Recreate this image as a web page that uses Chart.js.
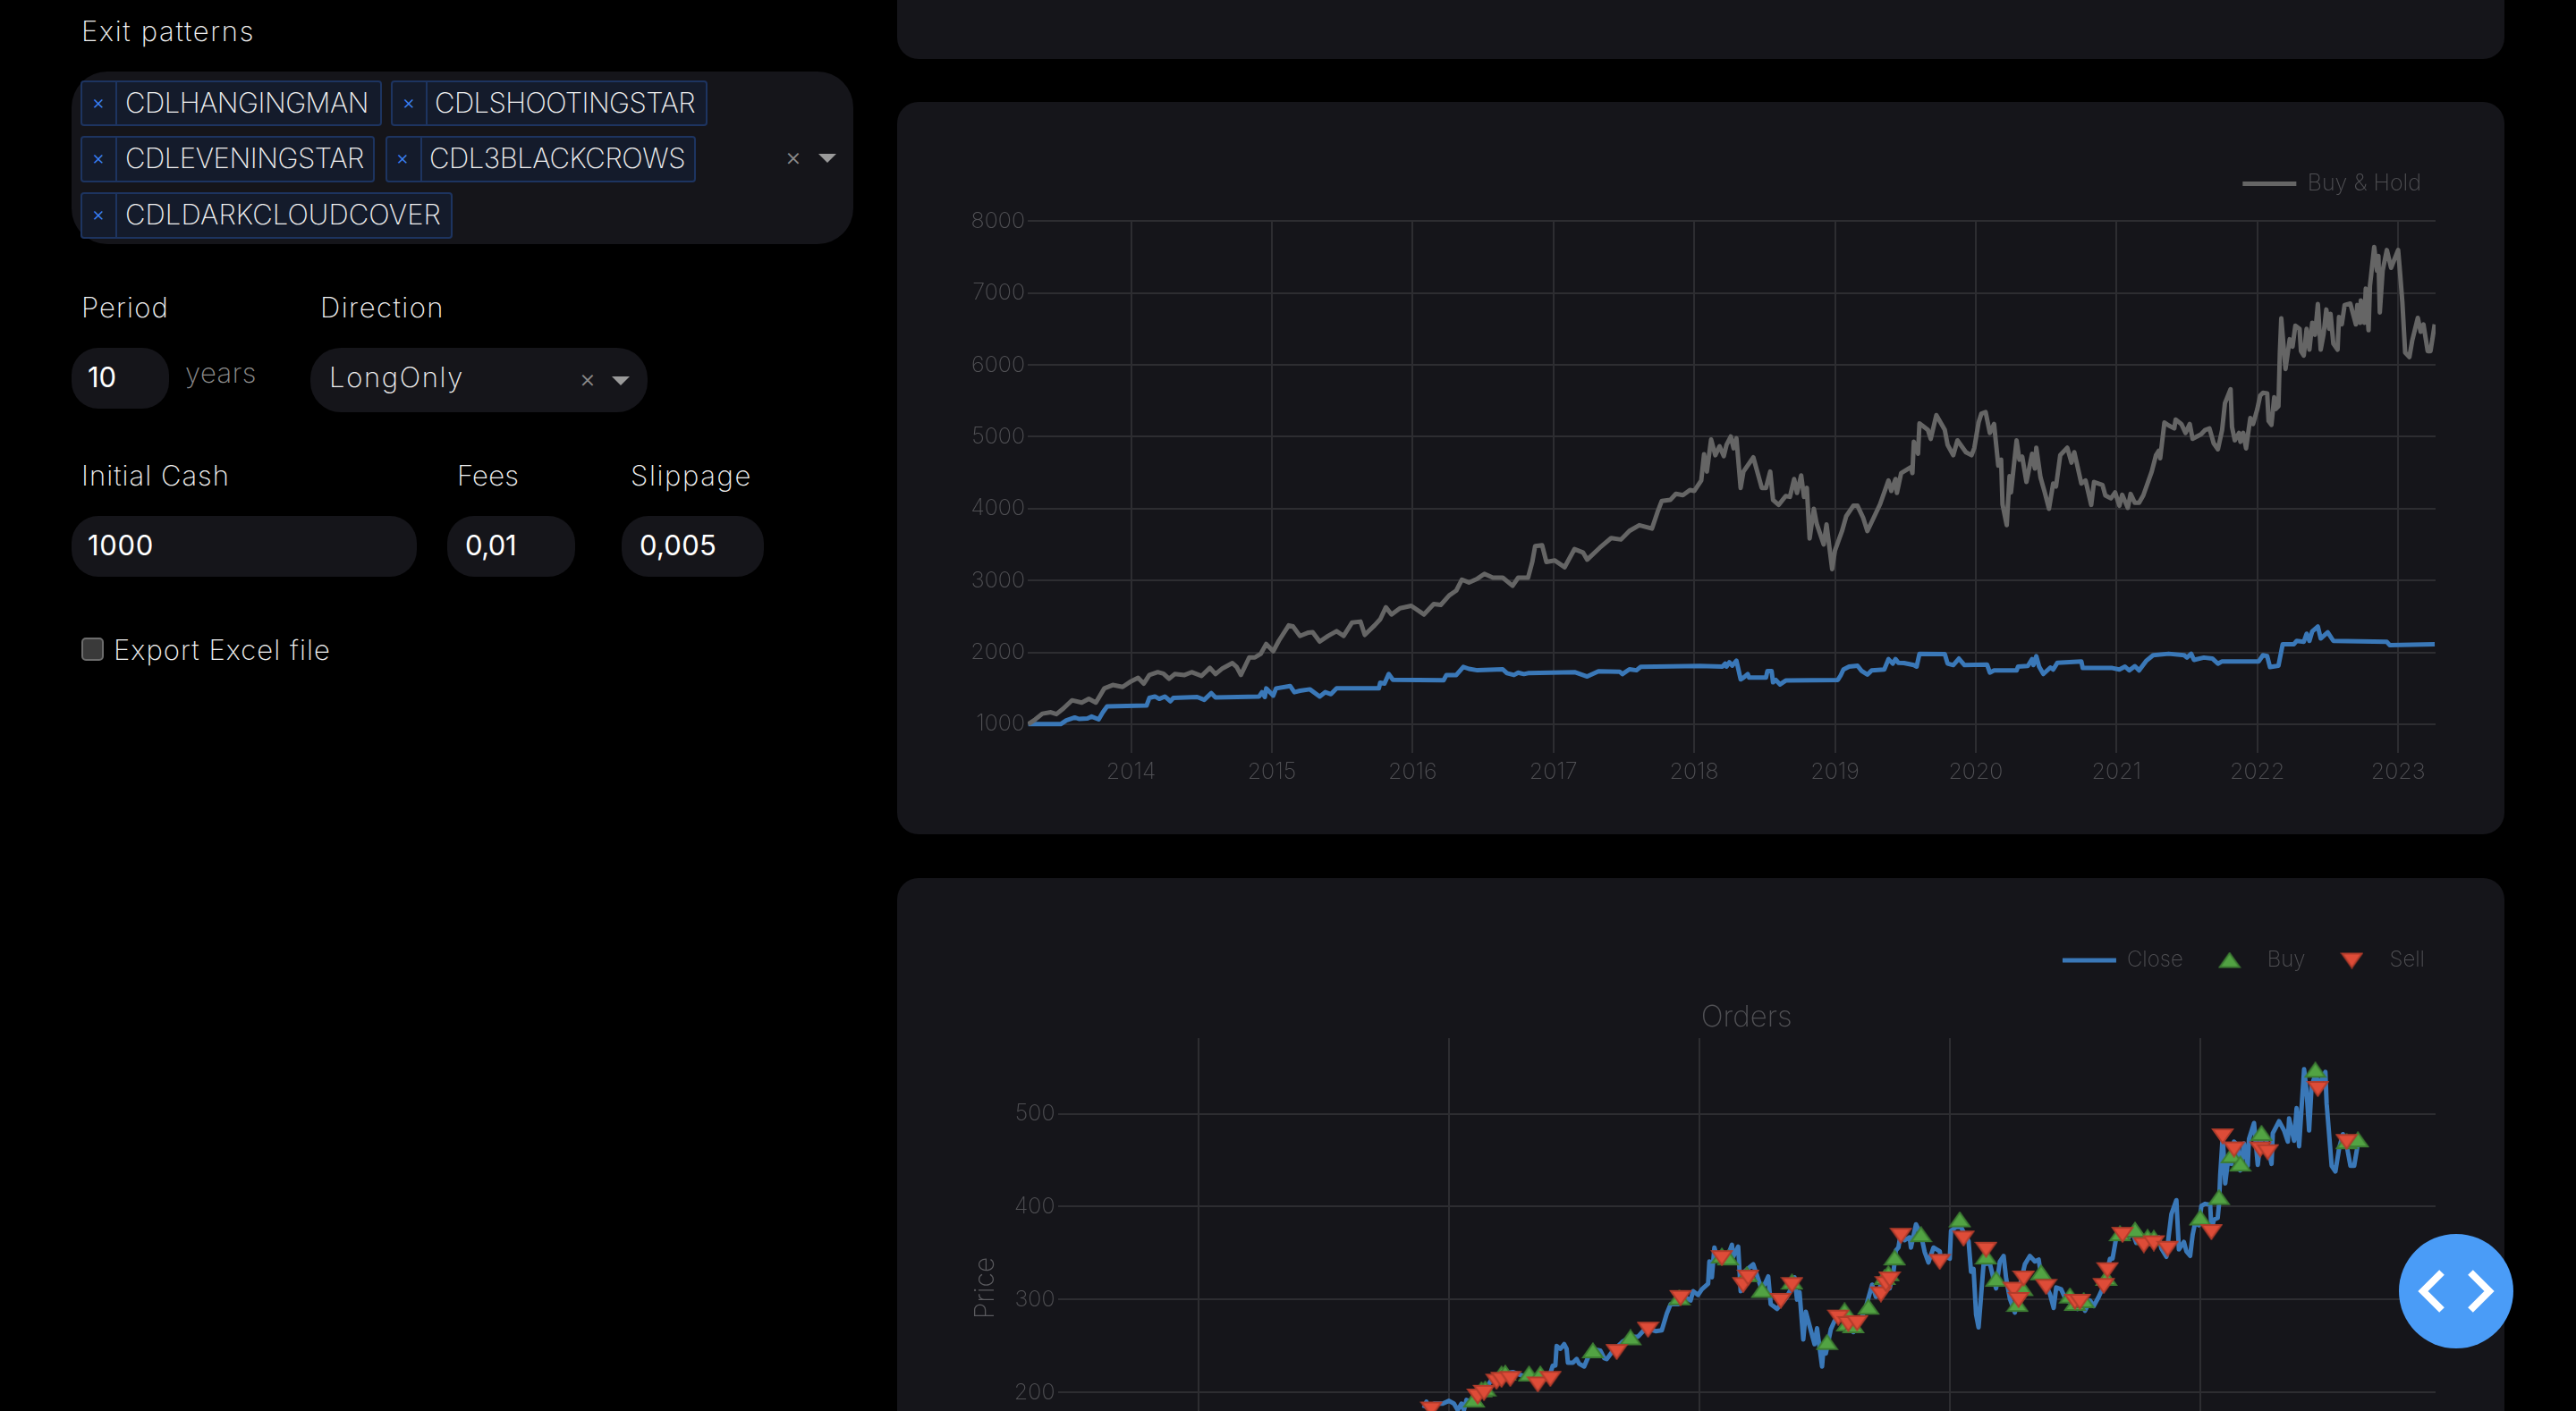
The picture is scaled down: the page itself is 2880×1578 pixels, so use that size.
<!DOCTYPE html>
<html>
<head>
<meta charset="utf-8">
<script src="https://cdn.jsdelivr.net/npm/chart.js@4/dist/chart.umd.js"></script>
<style>
html,body{margin:0;padding:0;background:#000;width:2880px;height:1578px;overflow:hidden;font-family:Inter,"Open Sans",sans-serif;}
.box{position:absolute;background:#15151a;}
.t{position:absolute;transform:translate(-1px,calc(-50% - 1.5px));white-space:nowrap;color:#f2f2f2;font-weight:200;font-size:31px;line-height:1;}
.v{font-weight:400;color:#fff;}
.chip{position:absolute;box-sizing:border-box;background:#141b2b;border:2px solid #1d3460;border-radius:4px;}
.chip i{position:absolute;left:37px;top:0;bottom:0;width:2px;background:#1d3460;}
.x{position:absolute;transform:translate(-50%,-50%);font-weight:300;line-height:1;}
.tri{position:absolute;width:0;height:0;border-left:10px solid transparent;border-right:10px solid transparent;border-top:10px solid #9a9a9a;}
.card{position:absolute;left:1003px;width:1797px;background:#15151a;border-radius:24px;}
canvas{display:block;}
</style>
</head>
<body>
<div class="card" style="top:-40px;height:106px;"></div>
<div class="card" style="top:114px;height:819px;"><canvas id="equity" width="1797" height="819"></canvas></div>
<div class="card" style="top:982px;height:596px;overflow:hidden;border-radius:24px 24px 0 0;"><canvas id="orders" width="1797" height="750"></canvas></div>

<div class="t" style="left:92px;top:36px;" data-w="194">Exit patterns</div>
<div class="box" style="left:80px;top:80px;width:874px;height:193px;border-radius:40px;"></div>
<div class="chip" style="left:90px;top:90px;width:337px;height:51px;"><i></i></div>
<div class="chip" style="left:437px;top:90px;width:354px;height:51px;"><i></i></div>
<div class="chip" style="left:90px;top:152px;width:329px;height:52px;"><i></i></div>
<div class="chip" style="left:431px;top:152px;width:347px;height:52px;"><i></i></div>
<div class="chip" style="left:90px;top:215px;width:416px;height:52px;"><i></i></div>
<div class="t" style="left:141px;top:116px;" data-w="272">CDLHANGINGMAN</div>
<div class="t" style="left:487px;top:116px;" data-w="291">CDLSHOOTINGSTAR</div>
<div class="t" style="left:141px;top:178px;" data-w="267">CDLEVENINGSTAR</div>
<div class="t" style="left:481px;top:178px;" data-w="286">CDL3BLACKCROWS</div>
<div class="t" style="left:141px;top:241px;" data-w="353">CDLDARKCLOUDCOVER</div>
<div class="x" style="left:110px;top:114px;font-size:22px;color:#3b82f6;">×</div>
<div class="x" style="left:457px;top:114px;font-size:22px;color:#3b82f6;">×</div>
<div class="x" style="left:110px;top:176px;font-size:22px;color:#3b82f6;">×</div>
<div class="x" style="left:450px;top:176px;font-size:22px;color:#3b82f6;">×</div>
<div class="x" style="left:110px;top:239px;font-size:22px;color:#3b82f6;">×</div>
<div class="x" style="left:887px;top:175px;font-size:28px;color:#8a8a8a;">×</div>
<div class="tri" style="left:915px;top:172px;"></div>

<div class="t" style="left:92px;top:345px;" data-w="98">Period</div>
<div class="t" style="left:359px;top:345px;" data-w="139">Direction</div>
<div class="box" style="left:80px;top:389px;width:109px;height:68px;border-radius:30px;"></div>
<div class="t v" style="left:99px;top:423px;" data-w="32">10</div>
<div class="t" style="left:208px;top:418px;color:#8c8c8c;" data-w="80">years</div>
<div class="box" style="left:347px;top:389px;width:377px;height:72px;border-radius:34px;"></div>
<div class="t" style="left:369px;top:423px;" data-w="151">LongOnly</div>
<div class="x" style="left:657px;top:423px;font-size:28px;color:#8a8a8a;">×</div>
<div class="tri" style="left:684px;top:421px;"></div>

<div class="t" style="left:92px;top:533px;" data-w="166">Initial Cash</div>
<div class="t" style="left:512px;top:533px;" data-w="69">Fees</div>
<div class="t" style="left:706px;top:533px;" data-w="136">Slippage</div>
<div class="box" style="left:80px;top:577px;width:386px;height:68px;border-radius:30px;"></div>
<div class="box" style="left:500px;top:577px;width:143px;height:68px;border-radius:30px;"></div>
<div class="box" style="left:695px;top:577px;width:159px;height:68px;border-radius:30px;"></div>
<div class="t v" style="left:99px;top:611px;" data-w="74">1000</div>
<div class="t v" style="left:521px;top:611px;" data-w="57">0,01</div>
<div class="t v" style="left:716px;top:611px;" data-w="86">0,005</div>

<div style="position:absolute;left:91px;top:713px;width:25px;height:26px;box-sizing:border-box;background:#3a3a3a;border:2px solid #6c6c6c;border-radius:5px;"></div>
<div class="t" style="left:128px;top:728px;" data-w="243">Export Excel file</div>

<svg style="position:absolute;left:2682px;top:1380px;" width="128" height="128" viewBox="2682 1380 128 128">
<circle cx="2746" cy="1444" r="64" fill="#4a9cf7"/>
<path d="M2730 1423 L2709 1444 L2730 1465 M2762 1423 L2783 1444 L2762 1465" fill="none" stroke="#fff" stroke-width="8"/>
</svg>

<script>
// Equity chart
const yearTicks = [2014,2015,2016,2017,2018,2019,2020,2021,2022,2023];
const equityTicks = [1000,2000,3000,4000,5000,6000,7000,8000];
const holdYears = [2013.27,2013.32,2013.37,2013.43,2013.47,2013.52,2013.58,2013.65,2013.70,2013.75,2013.81,2013.87,2013.94,2014.0,2014.05,2014.09,2014.13,2014.19,2014.23,2014.27,2014.31,2014.38,2014.43,2014.50,2014.56,2014.60,2014.65,2014.72,2014.75,2014.78,2014.84,2014.88,2014.92,2014.96,2015.01,2015.05,2015.12,2015.15,2015.20,2015.26,2015.29,2015.34,2015.40,2015.46,2015.51,2015.57,2015.63,2015.66,2015.73,2015.77,2015.81,2015.85,2015.91,2015.99,2016.08,2016.15,2016.20,2016.26,2016.31,2016.35,2016.40,2016.46,2016.51,2016.57,2016.64,2016.71,2016.75,2016.82,2016.85,2016.87,2016.92,2016.95,2017.01,2017.08,2017.15,2017.21,2017.24,2017.33,2017.41,2017.48,2017.54,2017.61,2017.70,2017.74,2017.77,2017.83,2017.87,2017.92,2017.97,
2018.0,2018.05,2018.07,2018.09,2018.12,2018.15,2018.18,2018.21,2018.23,2018.26,2018.28,2018.30,2018.33,2018.35,2018.42,2018.48,2018.51,2018.54,2018.56,2018.60,2018.65,2018.68,2018.71,2018.73,2018.76,2018.78,2018.80,2018.82,2018.85,2018.87,2018.92,2018.94,2018.98,2019.0,2019.05,2019.08,2019.13,2019.16,2019.20,2019.23,2019.29,2019.32,2019.38,2019.40,2019.43,2019.44,2019.47,2019.54,2019.55,2019.56,2019.59,2019.60,2019.66,2019.68,2019.72,2019.78,2019.80,2019.84,2019.87,2019.93,2019.97,2019.99,2020.02,2020.04,2020.07,2020.10,2020.13,2020.16,2020.18,2020.19,2020.22,2020.24,2020.25,2020.29,2020.31,2020.33,2020.36,2020.40,2020.42,2020.43,2020.46,2020.49,2020.52,2020.55,
2020.57,2020.60,2020.65,2020.68,2020.70,2020.75,2020.78,2020.82,2020.84,2020.90,2020.92,2020.96,2020.99,2021.02,2021.04,2021.08,2021.10,2021.13,2021.16,2021.19,2021.25,2021.28,2021.30,2021.31,2021.34,2021.37,2021.41,2021.42,2021.46,2021.49,2021.52,2021.54,2021.60,2021.63,2021.66,2021.69,2021.72,2021.75,2021.77,2021.81,2021.82,2021.84,2021.87,2021.88,2021.90,2021.92,2021.95,2021.97,2022.0,2022.02,2022.04,2022.07,2022.08,2022.10,2022.12,2022.13,2022.15,2022.16,2022.17,2022.20,2022.23,2022.25,2022.27,2022.30,2022.31,2022.33,2022.35,2022.37,2022.39,2022.41,2022.43,2022.45,2022.47,2022.49,2022.51,2022.52,2022.54,2022.57,2022.58,2022.60,2022.62,2022.66,2022.70,2022.71,2022.73,2022.735,2022.76,2022.77,2022.79,2022.80,2022.83,2022.85,2022.86,2022.87,2022.89,2022.92,2022.95,2023.0,2023.01,2023.03,2023.05,2023.08,2023.10,2023.14,2023.16,2023.18,2023.21,2023.23,2023.26];
const holdValues = [1000,1066,1146,1166,1140,1219,1332,1300,1352,1300,1498,1545,1518,1597,1644,1564,1684,1724,1704,1631,1697,1684,1724,1671,1784,1697,1777,1850,1797,1684,1930,1930,1976,2116,2016,2162,2375,2361,2228,2275,2281,2149,2228,2295,2228,2415,2428,2242,2375,2461,2627,2527,2614,2647,2527,2673,2660,2793,2859,3012,2972,3025,3092,3039,3039,2926,3039,3039,3258,3477,3490,3258,3278,3185,3437,3390,3290,3457,3590,3570,3690,3770,3723,3955,4108,4121,4207,4187,4259,
4246,4391,4756,4516,4963,4743,4868,4731,4888,5004,4839,4979,4288,4516,4714,4288,4288,4516,4122,4052,4176,4164,4412,4218,4462,4164,4288,3584,3998,3791,3501,3779,3158,3418,3687,3895,4040,4040,3874,3687,3936,4060,4391,4246,4412,4218,4495,4578,4495,4930,4764,5186,5095,4971,5302,5095,4888,4743,4950,4785,4743,4847,5199,5323,5344,5054,5178,4598,4681,4060,3770,4453,4226,4950,4681,4723,4371,4764,4557,4847,4433,4226,3998,4350,
4309,4744,4847,4640,4785,4350,4392,4052,4371,4330,4185,4143,4226,4040,4193,4011,4205,4081,4081,4185,4516,4744,4806,4702,5199,5158,5116,5240,5178,5054,5178,4971,5033,5096,5116,4909,4826,5096,5468,5663,5137,4951,5054,4930,5054,4839,5261,5178,5385,5572,5613,5605,5220,5166,5551,5385,5427,6172,6648,5944,6358,6255,6545,6503,6193,6131,6503,6213,6586,6420,6847,6213,6420,6772,6503,6710,6296,6213,6669,6565,6834,6855,6565,6834,6586,6897,6586,7062,6483,7104,7642,7311,7518,6731,7311,7600,7352,7600,7373,6876,6172,6110,6338,6656,6462,6565,6193,6193,6565];
const valueYears = [2013.27,2013.50,2013.54,2013.60,2013.63,2013.69,2013.72,2013.77,2013.80,2013.83,2014.11,2014.13,2014.17,2014.20,2014.24,2014.28,2014.30,2014.47,2014.52,2014.57,2014.60,2014.91,2014.93,2014.95,2014.96,2015.01,2015.03,2015.13,2015.16,2015.20,2015.27,2015.34,2015.38,2015.42,2015.46,2015.76,2015.77,2015.80,2015.83,2015.86,2016.22,2016.24,2016.31,2016.36,2016.40,2016.46,2016.64,2016.67,2016.72,2016.75,2016.79,2016.82,2017.15,2017.24,2017.32,2017.47,2017.49,2017.54,2017.59,2017.62,2018.04,
2018.20,2018.22,2018.23,2018.25,2018.27,2018.30,2018.33,2018.35,2018.38,2018.39,2018.51,2018.52,2018.55,2018.56,2018.58,2018.61,2018.65,2019.02,2019.04,2019.06,2019.10,2019.16,2019.19,2019.23,2019.26,2019.35,2019.38,2019.41,2019.43,2019.45,2019.49,2019.56,2019.58,2019.60,2019.78,2019.80,2019.84,2019.88,2019.92,2020.08,2020.10,2020.13,2020.29,2020.30,2020.37,2020.40,2020.41,2020.43,2020.45,2020.48,2020.53,2020.55,2020.58,
2020.75,2020.76,2020.97,2021.02,2021.06,2021.09,2021.13,2021.16,2021.21,2021.26,2021.37,2021.48,2021.50,2021.53,2021.55,2021.62,2021.68,2021.72,2021.75,2022.01,2022.04,2022.07,2022.09,2022.15,2022.18,2022.26,2022.28,2022.33,2022.35,2022.37,2022.39,2022.43,2022.45,2022.50,2022.54,2022.92,2022.94,2023.26];
const valueAmounts = [1000,1000,1053,1093,1073,1080,1106,1066,1166,1246,1259,1365,1385,1352,1385,1319,1365,1378,1339,1432,1372,1385,1445,1378,1498,1398,1498,1531,1445,1465,1485,1385,1445,1418,1498,1498,1578,1564,1697,1618,1611,1684,1684,1797,1770,1750,1764,1710,1684,1717,1697,1710,1724,1664,1737,1730,1697,1764,1750,1797,1810,
1801,1843,1801,1863,1814,1884,1623,1648,1698,1648,1648,1739,1739,1582,1615,1553,1607,1615,1677,1760,1801,1814,1739,1690,1747,1760,1905,1843,1905,1855,1851,1822,1801,1979,1975,1843,1822,1913,1822,1830,1718,1747,1747,1801,1810,1905,1822,1946,1801,1698,1789,1760,1855,
1874,1781,1781,1761,1801,1748,1807,1748,1880,1960,1980,1960,1927,1980,1894,1927,1914,1841,1874,1874,1960,1947,1794,1814,2113,2113,2159,2146,2259,2159,2292,2358,2193,2279,2159,2146,2100,2113];
// Orders chart
const orderYearTicks = [2014,2016,2018,2020,2022];
const priceTicks = [200,300,400,500];
const closeYears = [2015.80,2015.82,2015.84,2015.88,2015.95,2016.0,2016.04,2016.07,2016.10,2016.12,2016.14,2016.19,2016.24,2016.30,2016.35,2016.42,2016.51,2016.57,2016.64,2016.73,2016.81,2016.83,2016.85,2016.86,2016.89,2016.92,2016.94,2016.95,2016.99,2017.02,2017.04,2017.08,2017.14,2017.21,2017.24,2017.26,2017.31,2017.39,2017.45,2017.51,2017.55,2017.60,2017.65,2017.70,2017.74,2017.77,2017.83,2017.88,2017.93,
2017.95,2017.99,2018.02,2018.07,2018.08,2018.10,2018.12,2018.15,2018.21,2018.26,2018.27,2018.31,2018.33,2018.35,2018.43,2018.49,2018.52,2018.55,2018.57,2018.62,2018.69,2018.73,2018.76,2018.78,2018.80,2018.83,2018.85,2018.88,2018.92,2018.94,2018.98,2018.99,2019.01,2019.05,2019.08,2019.13,2019.19,2019.23,2019.30,2019.33,2019.38,2019.41,2019.45,2019.49,2019.52,2019.55,2019.57,2019.59,2019.61,2019.64,2019.68,2019.69,2019.73,2019.77,2019.80,2019.83,2019.87,2019.92,2019.93,2019.96,
2020.0,2020.01,2020.05,2020.09,2020.12,2020.15,2020.17,2020.19,2020.21,2020.23,2020.25,2020.27,2020.32,2020.35,2020.37,2020.40,2020.43,2020.45,2020.48,2020.52,2020.55,2020.60,2020.64,2020.68,2020.71,2020.73,2020.77,2020.80,2020.83,2020.85,2020.89,2020.93,2020.98,2021.02,2021.05,2021.08,2021.12,2021.15,2021.19,2021.23,2021.28,2021.30,2021.33,2021.37,2021.43,2021.45,2021.49,2021.54,2021.60,2021.67,2021.69,2021.73,2021.75,2021.77,2021.81,2021.83,2021.87,2021.89,2021.92,
2021.94,2021.96,2021.99,2022.01,2022.04,2022.08,2022.09,2022.11,2022.14,2022.15,2022.16,2022.18,2022.20,2022.22,2022.25,2022.27,2022.30,2022.32,2022.35,2022.38,2022.39,2022.43,2022.46,2022.48,2022.52,2022.57,2022.58,2022.63,2022.67,2022.70,2022.71,2022.75,2022.77,2022.79,2022.83,2022.85,2022.87,2022.89,2022.92,2022.95,2023.0,2023.01,2023.05,2023.08,2023.11,2023.14,2023.17,2023.20,2023.23,2023.26];
const closePrices = [183,190,184,188,188,191,188,181,188,181,192,187,202,205,216,220,222,219,216,212,221,229,229,250,247,252,247,232,232,236,231,228,247,245,237,236,245,255,260,260,266,268,266,267,285,295,295,303,299,
309,305,311,317,341,324,356,341,341,359,346,357,309,329,338,314,316,325,295,290,301,311,324,300,308,257,287,272,252,269,228,245,242,268,277,282,277,265,282,292,316,303,316,317,312,329,353,356,373,364,367,356,381,370,351,340,356,352,342,347,
344,374,378,378,370,363,330,333,284,270,304,338,339,322,312,341,347,323,301,286,309,338,347,341,343,325,315,306,291,313,311,299,296,290,298,288,299,293,303,315,344,344,367,372,367,375,361,363,360,367,355,346,370,392,407,354,362,352,347,
370,383,380,401,403,402,375,386,388,402,434,476,425,447,446,470,466,439,468,444,473,490,445,470,476,446,479,492,482,470,495,471,506,465,548,524,482,530,542,532,545,511,444,438,463,478,466,444,444,468];
const buyYears = [2016.20,2016.26,2016.29,2016.42,2016.45,2016.64,2016.73,2017.15,2017.45,2017.84,2018.18,2018.23,2018.38,2018.50,2018.74,2019.02,2019.16,2019.18,2019.23,2019.35,2019.48,2019.51,2019.56,2019.77,2020.08,2020.29,2020.37,2020.58,2020.54,2020.73,2020.96,2021.00,2021.07,2021.25,2021.36,2021.48,2021.58,2021.63,2022.0,2022.15,2022.25,2022.32,2022.49,2022.92,2023.17,2023.26];
const buyPrices = [192,203,204,220,221,220,220,245,259,302,347,345,327,310,319,254,288,274,272,292,324,328,345,370,386,346,322,312,295,329,304,296,299,323,371,375,367,366,388,410,455,446,479,547,470,472];
const sellYears = [2015.86,2016.23,2016.28,2016.38,2016.42,2016.49,2016.71,2016.81,2017.34,2017.59,2017.85,2018.18,2018.35,2018.39,2018.65,2018.74,2019.11,2019.19,2019.26,2019.45,2019.49,2019.52,2019.61,2019.92,2020.11,2020.29,2020.51,2020.55,2020.59,2020.77,2021.0,2021.04,2021.23,2021.26,2021.38,2021.55,2021.63,2021.74,2022.09,2022.18,2022.27,2022.48,2022.54,2022.94,2023.17];
const sellPrices = [182,196,200,212,214,215,209,215,244,268,302,345,316,324,299,316,281,274,275,306,317,322,369,341,366,354,311,300,323,314,298,298,315,332,370,359,361,355,373,476,462,462,459,527,470];

const toPts = (xs, ys) => xs.map((x, i) => ({x, y: ys[i]}));
const GRID = '#2d2d31', DIM = '#505054';
const SANS = 'Inter, "Open Sans", sans-serif';
const tickFont = {family: SANS, size: 25, weight: 200};
const legendFont = {family: SANS, size: 24, weight: 200};

function triangle(up, fill, stroke) {
  const c = document.createElement('canvas');
  c.width = 26; c.height = 19;
  const g = c.getContext('2d');
  g.beginPath();
  if (up) { g.moveTo(13, 1.5); g.lineTo(24, 17); g.lineTo(2, 17); }
  else { g.moveTo(13, 17.5); g.lineTo(24, 2); g.lineTo(2, 2); }
  g.closePath();
  g.fillStyle = fill; g.fill();
  g.lineWidth = 2; g.strokeStyle = stroke; g.stroke();
  return c;
}
const upMark = triangle(true, '#52a343', '#3d7d33');
const downMark = triangle(false, '#de4c38', '#b23c2b');

// Extends the legend box below its items and nudges it sideways.
const legendTune = {
  id: 'legendTune',
  beforeInit(chart) {
    const fit = chart.legend.fit.bind(chart.legend);
    chart.legend.fit = function () { fit(); this.height += chart.options.plugins.legendTune.extra; };
  },
  afterLayout(chart) {
    const dx = chart.options.plugins.legendTune.dx;
    chart.legend.left += dx; chart.legend.right += dx;
  }
};
const noPad = s => { s.paddingTop = 0; s.paddingBottom = 0; s.paddingLeft = 0; s.paddingRight = 0; };

new Chart(document.getElementById('equity'), {
  type: 'line',
  data: {datasets: [
    {label: 'Buy & Hold', data: toPts(holdYears, holdValues), borderColor: '#656565', borderWidth: 5, borderJoinStyle: 'round', pointRadius: 0, pointStyle: 'line', tension: 0},
    {label: 'Value', data: toPts(valueYears, valueAmounts), borderColor: '#3a78b8', borderWidth: 5, borderJoinStyle: 'round', pointRadius: 0, pointStyle: 'line', tension: 0}
  ]},
  plugins: [legendTune],
  options: {
    responsive: false, animation: false, parsing: false,
    layout: {padding: {top: 63, right: 77, left: 0, bottom: 0}},
    plugins: {
      legendTune: {extra: 18, dx: 0},
      tooltip: {enabled: false},
      title: {display: false},
      legend: {display: true, position: 'top', align: 'end', fullSize: false,
        labels: {usePointStyle: true, pointStyleWidth: 60, padding: 16, color: DIM, font: {family: SANS, size: 25, weight: 200},
          filter: it => it.text === 'Buy & Hold'}}
    },
    scales: {
      x: {type: 'linear', min: 2013.266, max: 2023.266,
        afterBuildTicks: s => { s.ticks = yearTicks.map(value => ({value})); },
        afterFit: s => { s.height = 91; noPad(s); },
        grid: {color: GRID, lineWidth: 2, drawTicks: false}, border: {display: false},
        ticks: {color: DIM, font: tickFont, padding: 6, maxRotation: 0, autoSkip: false, callback: v => String(v)}},
      y: {type: 'linear', min: 600, max: 8018,
        afterBuildTicks: s => { s.ticks = equityTicks.map(value => ({value})); },
        afterFit: s => { s.width = 146; noPad(s); },
        grid: {color: GRID, lineWidth: 2, drawTicks: false}, border: {display: false},
        ticks: {color: DIM, font: tickFont, padding: 3, autoSkip: false, callback: v => String(v)}}
    }
  }
});

new Chart(document.getElementById('orders'), {
  type: 'line',
  data: {datasets: [
    {label: 'Close', data: toPts(closeYears, closePrices), borderColor: '#3a78b8', backgroundColor: '#3a78b8', borderWidth: 5, borderJoinStyle: 'round', pointRadius: 0, pointStyle: 'line', tension: 0, order: 3},
    {label: 'Buy', data: toPts(buyYears, buyPrices), showLine: false, pointStyle: upMark, pointRadius: 11, borderColor: '#3d7d33', backgroundColor: '#52a343', order: 2},
    {label: 'Sell', data: toPts(sellYears, sellPrices), showLine: false, pointStyle: downMark, pointRadius: 11, borderColor: '#b23c2b', backgroundColor: '#de4c38', order: 1}
  ]},
  plugins: [legendTune],
  options: {
    responsive: false, animation: false, parsing: false,
    layout: {padding: {top: 58, right: 77, left: 0, bottom: 0}},
    plugins: {
      legendTune: {extra: 0, dx: 10},
      tooltip: {enabled: false},
      title: {display: true, text: 'Orders', color: DIM, align: 'center', fullSize: false, weight: 1000,
        font: {family: SANS, size: 33, weight: 200}, padding: {top: 22, bottom: 3.4}},
      legend: {display: true, position: 'top', align: 'end', fullSize: false, weight: 3000,
        labels: {usePointStyle: true, pointStyleWidth: 60, padding: 22, color: DIM, font: legendFont,
          sort: (a, b) => a.datasetIndex - b.datasetIndex}}
    },
    scales: {
      x: {type: 'linear', min: 2012.875, max: 2023.88,
        afterBuildTicks: s => { s.ticks = orderYearTicks.map(value => ({value})); },
        afterFit: s => { s.height = 0; noPad(s); },
        grid: {color: GRID, lineWidth: 2, drawTicks: false}, border: {display: false},
        ticks: {display: false, autoSkip: false}},
      y: {type: 'linear', min: 43.4, max: 581.4,
        afterBuildTicks: s => { s.ticks = priceTicks.map(value => ({value})); },
        afterFit: s => { s.width = 179.5; noPad(s); },
        title: {display: true, text: 'Price', color: '#5a5a5e', font: {family: SANS, size: 30, weight: 200}, padding: {top: 81, bottom: 0}},
        grid: {color: GRID, lineWidth: 2, drawTicks: false}, border: {display: false},
        ticks: {color: DIM, font: tickFont, padding: 3, autoSkip: false, callback: v => String(v)}}
    }
  }
});

// Fit the labels to the widths.
document.querySelectorAll('.t[data-w]').forEach(el => {
  const w = el.getBoundingClientRect().width, n = el.textContent.length;
  el.style.letterSpacing = ((+el.dataset.w - w) / n).toFixed(3) + 'px';
});
</script>
</body>
</html>
